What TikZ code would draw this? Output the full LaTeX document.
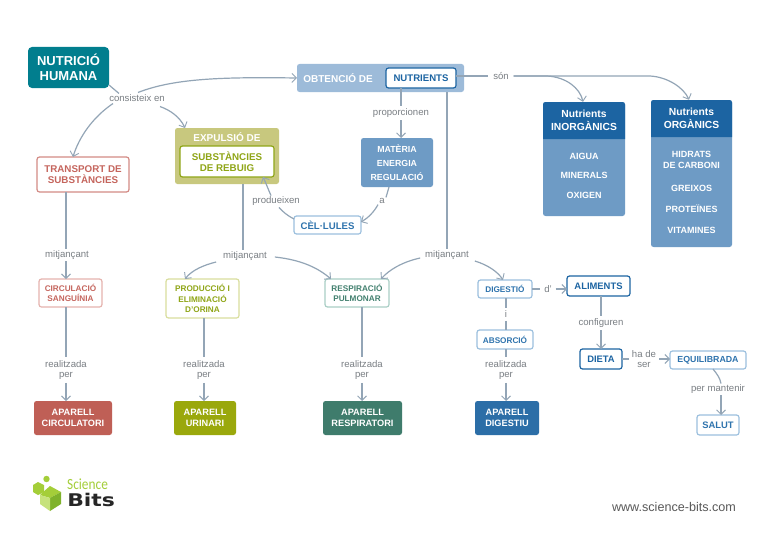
\documentclass[tikz,border=0pt]{standalone}
\usepackage{fontspec}
\setmainfont{Liberation Sans}
\newfontfamily\logofont{Carlito}
\newfontfamily\bitsfont{DejaVu Sans}
\usetikzlibrary{arrows.meta,calc}
\definecolor{cteal}{HTML}{017E8E}
\definecolor{cline}{HTML}{93A5B6}
\definecolor{clabel}{HTML}{7A7F84}
\definecolor{cobt}{HTML}{9DBBD9}
\definecolor{cdark}{HTML}{1C64A2}
\definecolor{cmid}{HTML}{6E9BC5}
\definecolor{clight}{HTML}{9CC0DE}
\definecolor{ctext}{HTML}{2E73AD}
\definecolor{colive}{HTML}{C8C87E}
\definecolor{cgreen}{HTML}{8FA516}
\definecolor{cgreenl}{HTML}{D9DE9E}
\definecolor{cgreenf}{HTML}{9AA80C}
\definecolor{cred}{HTML}{C5655D}
\definecolor{credl}{HTML}{E5B3AE}
\definecolor{credf}{HTML}{BF5F56}
\definecolor{csea}{HTML}{42806F}
\definecolor{cseal}{HTML}{A9CEC5}
\definecolor{cseaf}{HTML}{3F7C6C}
\definecolor{cdig}{HTML}{2C6EA7}
\definecolor{cl1}{HTML}{A4CE39}
\definecolor{cl2}{HTML}{7FB22B}
\definecolor{cl3}{HTML}{C6E27C}
\tikzset{
  sz/.style 2 args={minimum width=#1 pt,minimum height=#2 pt},
  base/.style={rectangle,rounded corners=2.5pt,inner sep=0pt,outer sep=0pt,align=center},
  solidbox/.style={base,text=white,font=\fontsize{9.2}{11.6}\selectfont\bfseries},
  linebox/.style={base,fill=white,line width=1.2pt,font=\fontsize{8.2}{10.8}\selectfont\bfseries},
  lab/.style={inner sep=0pt,outer sep=0pt,text=clabel,align=center,font=\fontsize{9.6}{10.6}\selectfont},
  title/.style={inner sep=0pt,text=white,align=center,font=\fontsize{10}{11}\selectfont\bfseries},
  item/.style={inner sep=0pt,text=white,align=center,font=\fontsize{9}{10.6}\selectfont\bfseries},
  conn/.style={draw=cline,line width=1.2pt},
  arr/.style={conn,-{Straight Barb[length=4.5pt,width=9pt,line width=0.9pt]}},
}
\begin{document}
\begin{tikzpicture}[x=1pt,y=-1pt]
\useasboundingbox[fill=white] (0,0) rectangle (768,543);
% main concepts
\node[solidbox,sz={81}{41},fill=cteal,rounded corners=4pt,font=\fontsize{13}{15.5}\selectfont\bfseries] (nh) at (68.5,67.5) {NUTRICIÓ\\HUMANA};
\node[base,sz={167}{28},fill=cobt] (ob) at (380.5,78) {};
\node[title] (obt) at (338,78) {OBTENCIÓ DE};
\node[linebox,sz={70}{20},draw=cdark,text=cdark,font=\fontsize{9.6}{11}\selectfont\bfseries] (nu) at (421,78) {NUTRIENTS};
\node[solidbox,sz={72}{49},fill=cmid,font=\fontsize{8.8}{13.7}\selectfont\bfseries] (ma) at (397,162.5) {MATÈRIA\\ENERGIA\\REGULACIÓ};
\node[linebox,sz={67}{18},draw=clight,text=ctext,font=\fontsize{9.6}{11}\selectfont\bfseries] (ce) at (327.5,225) {CÈL·LULES};
\node[base,sz={104}{56},fill=colive] (ex) at (227,156) {};
\node[title] (ext) at (227,137) {EXPULSIÓ DE};
\node[linebox,sz={94}{31},draw=cgreen,text=cgreen,font=\fontsize{9.8}{11.3}\selectfont\bfseries] (re) at (227,161.5) {SUBSTÀNCIES\\DE REBUIG};
\node[linebox,sz={92}{35},draw=cred!75,text=cred,font=\fontsize{9.8}{11.3}\selectfont\bfseries] (tr) at (83,174.5) {TRANSPORT DE\\SUBSTÀNCIES};
% nutrient panels
\node[base,sz={82}{114},fill=cmid] (ino) at (584,159) {};
\fill[cdark,rounded corners=2.5pt] (543,139) [sharp corners] -- (543,110) [rounded corners=2.5pt] -- (543,102) -- (625,102) [sharp corners] -- (625,110) -- (625,139) -- cycle;
\node[title,font=\fontsize{10.3}{13.6}\selectfont\bfseries,minimum width=82pt,minimum height=37pt] (inoh) at (584,120.5) {Nutrients\\INORGÀNICS};
\node[item] (i1) at (584,156) {AIGUA};
\node[item] (i2) at (584,175) {MINERALS};
\node[item] (i3) at (584,195) {OXIGEN};
\node[base,sz={81}{147},fill=cmid] (org) at (691.5,173.5) {};
\fill[cdark,rounded corners=2.5pt] (651,137) [sharp corners] -- (651,108) [rounded corners=2.5pt] -- (651,100) -- (732,100) [sharp corners] -- (732,108) -- (732,137) -- cycle;
\node[title,font=\fontsize{10.3}{13.6}\selectfont\bfseries,minimum width=81pt,minimum height=37pt] (orgh) at (691.5,118.5) {Nutrients\\ORGÀNICS};
\node[item,font=\fontsize{9}{11}\selectfont\bfseries] (o1) at (691.5,159.5) {HIDRATS\\DE CARBONI};
\node[item] (o2) at (691.5,188) {GREIXOS};
\node[item] (o3) at (691.5,209) {PROTEÏNES};
\node[item] (o4) at (691.5,230) {VITAMINES};
% process boxes
\node[linebox,sz={63}{28},draw=credl,text=cred] (ci) at (70.5,293) {CIRCULACIÓ\\SANGUÍNIA};
\node[linebox,sz={73}{39},draw=cgreenl,text=cgreen] (pr) at (202.5,298.5) {PRODUCCIÓ I\\ELIMINACIÓ\\D’ORINA};
\node[linebox,sz={64}{28},draw=cseal,text=csea] (rs) at (357,293) {RESPIRACIÓ\\PULMONAR};
\node[linebox,sz={54}{18},draw=clight,text=ctext] (di) at (505,289) {DIGESTIÓ};
\node[linebox,sz={56}{19},draw=clight,text=ctext] (ab) at (505,339.5) {ABSORCIÓ};
\node[linebox,sz={63}{20},draw=cdark,text=cdark,font=\fontsize{9.4}{11}\selectfont\bfseries] (al) at (598.5,286) {ALIMENTS};
\node[linebox,sz={42}{20},draw=cdark,text=cdark,font=\fontsize{9.4}{11}\selectfont\bfseries] (de) at (601,359) {DIETA};
\node[linebox,sz={76}{18},draw=clight,text=ctext,font=\fontsize{8.8}{11}\selectfont\bfseries] (eq) at (708,360) {EQUILIBRADA};
\node[linebox,sz={42}{20},draw=clight,text=ctext,font=\fontsize{9.4}{11}\selectfont\bfseries] (sa) at (718,425) {SALUT};
% organ systems
\node[solidbox,sz={78}{34},fill=credf] (a1) at (73,418) {APARELL\\CIRCULATORI};
\node[solidbox,sz={62}{34},fill=cgreenf] (a2) at (205,418) {APARELL\\URINARI};
\node[solidbox,sz={79}{34},fill=cseaf] (a3) at (362.5,418) {APARELL\\RESPIRATORI};
\node[solidbox,sz={64}{34},fill=cdig] (a4) at (507,418) {APARELL\\DIGESTIU};
% connector labels
\node[lab] (l1) at (137,98) {consisteix en};
\node[lab] (l2) at (501,76) {són};
\node[lab] (l3) at (401,113) {proporcionen};
\node[lab] (l4) at (382,201) {a};
\node[lab] (l5) at (276,201) {produeixen};
\node[lab] (m1) at (67,255) {mitjançant};
\node[lab] (m2) at (245,256) {mitjançant};
\node[lab] (m3) at (447,255) {mitjançant};
\node[lab] (r1) at (66,370) {realitzada\\per};
\node[lab] (r2) at (204,370) {realitzada\\per};
\node[lab] (r3) at (362,370) {realitzada\\per};
\node[lab] (r4) at (506,370) {realitzada\\per};
\node[lab] (l6) at (548,289) {d’};
\node[lab] (l7) at (506,314.5) {i};
\node[lab] (l8) at (601,323) {configuren};
\node[lab] (l9) at (644,359) {ha de\\ser};
\node[lab] (l10) at (718,389) {per mantenir};
% connectors (canvas shifts: positive yshift goes up the page)
\draw[conn] ([yshift=3pt]nh.south east) -- ([xshift=-18pt,yshift=1pt]l1.north);
\draw[arr] ([xshift=1pt,yshift=2pt]l1.north) .. controls (175,78) and (225,77) .. (ob.west);
\draw[arr] ([xshift=23pt,yshift=-5pt]l1.south) .. controls (170,110) and (180,117) .. ([xshift=-42pt]ex.north);
\draw[arr] ([xshift=-24pt,yshift=-2pt]l1.south) .. controls (93,117) and (79,137) .. ([xshift=-10pt]tr.north);
\draw[conn] (tr.south -| r1.north) -- ([xshift=-1pt,yshift=2pt]m1.north);
\draw[arr] ([xshift=-1pt,yshift=-2pt]m1.south) -- (ci.north -| r1.north);
\draw[conn] (ci.south -| r1.north) -- ([yshift=3pt]r1.north);
\draw[arr] ([yshift=-3pt]r1.south) -- (a1.north -| r1.south);
\draw[conn] ([xshift=16pt]ex.south) -- ([xshift=-2pt,yshift=2pt]m2.north);
\draw[arr] ([xshift=-7pt,yshift=-6pt]m2.west) .. controls (204,265) and (192,270) .. ([xshift=-17.5pt]pr.north);
\draw[arr] ([xshift=8pt,yshift=-1pt]m2.east) .. controls (302,260) and (318,268) .. ([xshift=-26pt]rs.north);
\draw[conn] (pr.south -| r2.north) -- ([yshift=3pt]r2.north);
\draw[arr] ([yshift=-3pt]r2.south) -- (a2.north -| r2.south);
\draw[conn] (rs.south -| r3.north) -- ([yshift=3pt]r3.north);
\draw[arr] ([yshift=-3pt]r3.south) -- (a3.north -| r3.south);
\draw[conn] (ob.south -| m3.north) -- ([yshift=2pt]m3.north);
\draw[arr] ([xshift=-5pt,yshift=-3pt]m3.west) .. controls (402,262) and (389,270) .. ([xshift=24pt]rs.north);
\draw[arr] ([xshift=6pt,yshift=-6pt]m3.east) .. controls (488,265) and (498,272) .. ([xshift=-2pt]di.north);
\draw[conn] (di.south -| l7.north) -- ([yshift=3pt]l7.north);
\draw[conn] ([yshift=-3pt]l7.south) -- (ab.north -| l7.south);
\draw[conn] (ab.south -| r4.north) -- ([yshift=3pt]r4.north);
\draw[arr] ([yshift=-3pt]r4.south) -- (a4.north -| r4.south);
\draw[conn] (di.east) -- ([xshift=-4pt]l6.west);
\draw[arr] ([xshift=4pt]l6.east) -- (al.west |- l6.east);
\draw[conn] (al.south -| l8.north) -- ([yshift=3pt]l8.north);
\draw[arr] ([yshift=-3pt]l8.south) -- (de.north -| l8.south);
\draw[conn] (de.east) -- ([xshift=-3pt]l9.west);
\draw[arr] ([xshift=3pt]l9.east) -- (eq.west |- l9.east);
\draw[conn] ([xshift=5pt]eq.south) .. controls (717,374) and (720,378) .. ([xshift=3pt,yshift=1pt]l10.north);
\draw[arr] ([xshift=3pt,yshift=-2pt]l10.south) -- ([xshift=3pt]sa.north);
\draw[conn] (nu.east |- l2.west) -- ([xshift=-5pt]l2.west);
\draw[arr] ([xshift=5pt]l2.east) -- (547,76) .. controls (566,77) and (580,88) .. ([xshift=-1pt]inoh.north);
\draw[arr] ([xshift=5pt]l2.east) -- (650,76) .. controls (668,77) and (684,88) .. ([xshift=-2.5pt]orgh.north);
\draw[conn] (nu.south -| l3.north) -- ([yshift=3pt]l3.north);
\draw[arr] ([yshift=-3pt]l3.south) -- (ma.north -| l3.south);
\draw[conn] ([xshift=-8pt]ma.south) -- ([xshift=4pt,yshift=1pt]l4.north);
\draw[arr] ([xshift=-4pt,yshift=-1pt]l4.south) .. controls (374,212) and (368,218) .. ([yshift=3pt]ce.east);
\draw[conn] ([yshift=6pt]ce.west) .. controls (288,216) and (283,212) .. ([xshift=3pt,yshift=-2pt]l5.south);
\draw[arr] ([xshift=-5pt,yshift=1pt]l5.north) .. controls (268,189) and (266,183) .. ([xshift=36pt]re.south);
% logo
\fill[cl1] (46.5,479) circle (3.2);
\fill[cl1] (38,482) -- (44,485) -- (44,492) -- (38,495) -- (33,492) -- (33,485) -- cycle;
\fill[cl1] (42,493) -- (50,486) -- (61,492) -- (50,498) -- (40,495) -- cycle;
\fill[cl2] (50,498) -- (61,492) -- (61,504) -- (50,511) -- cycle;
\fill[cl3] (40,495) -- (50,498) -- (50,511) -- (40,504) -- cycle;
\node[inner sep=0pt,anchor=west,text=cl1,xscale=0.86,font=\logofont\fontsize{15.5}{16}\selectfont] (ls) at (67,484) {Science};
\node[inner sep=0pt,anchor=west,text=black!85,xscale=1.25,font=\bitsfont\fontsize{17.5}{18}\selectfont\bfseries] (lb) at (67,500) {Bits};
\node[inner sep=0pt,text=black!65,font=\fontsize{12.6}{14}\selectfont] (url) at (674,507) {www.science-bits.com};
\end{tikzpicture}
\end{document}
